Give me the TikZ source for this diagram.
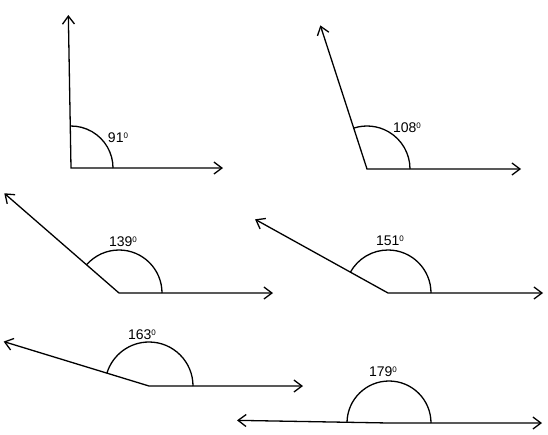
\documentclass[tikz,border=0pt]{standalone}
\usepackage{fontspec}
\setmainfont{Liberation Sans}
\usetikzlibrary{arrows.meta,calc}
\newcommand{\degz}{\raisebox{4.4pt}{\fontsize{8}{8}\selectfont 0}}
\begin{document}
\begin{tikzpicture}[x=1pt,y=-1pt,
  ray/.style={line width=1.3pt,line join=miter,
    {Straight Barb[length=8pt,width=12pt]}-{Straight Barb[length=8pt,width=12pt]}},
  arcline/.style={line width=1.3pt},
  lbl/.style={font=\fontsize{14}{16}\selectfont, inner sep=0pt}]
\useasboundingbox (0,0) rectangle (548,434);
% vertices
\coordinate (v1) at (71,168);
\coordinate (v2) at (367,169);
\coordinate (v3) at (119,293);
\coordinate (v4) at (388,293);
\coordinate (v5) at (149,386);
\coordinate (v6) at (389,423);
% tips of the slanted arms
\coordinate (a1) at ($(v1)+(91:153pt)$);
\coordinate (a2) at ($(v2)+(108:151pt)$);
\coordinate (a3) at ($(v3)+(139:152pt)$);
\coordinate (a4) at ($(v4)+(151:152pt)$);
\coordinate (a5) at ($(v5)+(163:152pt)$);
\coordinate (a6) at ($(v6)+(179:152pt)$);
% tips of the horizontal arms
\coordinate (b1) at (223,168);
\coordinate (b2) at (521,169);
\coordinate (b3) at (273,293);
\coordinate (b4) at (543,293);
\coordinate (b5) at (303,386);
\coordinate (b6) at (542,423);
% rays
\draw[ray] (a1) -- (v1) -- (b1);
\draw[ray] (a2) -- (v2) -- (b2);
\draw[ray] (a3) -- (v3) -- (b3);
\draw[ray] (a4) -- (v4) -- (b4);
\draw[ray] (a5) -- (v5) -- (b5);
\draw[ray] (a6) -- (v6) -- (b6);
% arcs
\draw[arcline] (v1) ++(42,0) arc[start angle=0,end angle=91,radius=42pt];
\draw[arcline] (v2) ++(43,0) arc[start angle=0,end angle=108,radius=43pt];
\draw[arcline] (v3) ++(43,0) arc[start angle=0,end angle=139,radius=43pt];
\draw[arcline] (v4) ++(43,0) arc[start angle=0,end angle=151,radius=43pt];
\draw[arcline] (v5) ++(44,0) arc[start angle=0,end angle=163,radius=44pt];
\draw[arcline] (v6) ++(42,0) arc[start angle=0,end angle=179,radius=42pt];
% labels
\node[lbl] (l1) at (118,138) {91\degz};
\node[lbl] (l2) at (407,128) {108\degz};
\node[lbl] (l3) at (123,242) {139\degz};
\node[lbl] (l4) at (390,241) {151\degz};
\node[lbl] (l5) at (142,335) {163\degz};
\node[lbl] (l6) at (383,372) {179\degz};
\end{tikzpicture}
\end{document}
